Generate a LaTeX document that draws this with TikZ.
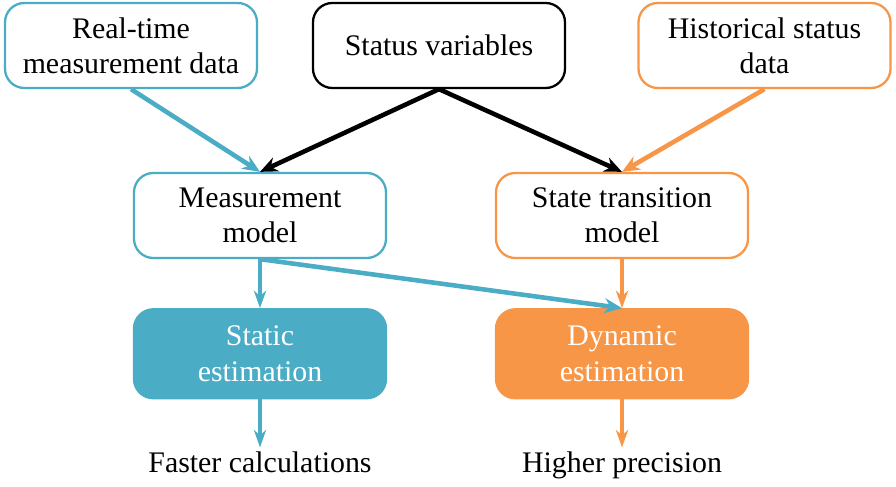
\documentclass[tikz,border=0pt]{standalone}
\usepackage{fontspec}
\setmainfont{Liberation Serif}
\usepackage{xcolor}
\usetikzlibrary{arrows.meta,positioning}
\definecolor{estblue}{RGB}{75,172,198}
\definecolor{estorange}{RGB}{247,150,70}

\begin{document}
\begin{tikzpicture}[
  node distance=0.98cm,
  every node/.style={font=\fontsize{17}{20}\selectfont},
  box/.style={rectangle, rounded corners=11pt, minimum width=5.04cm,
    minimum height=1.7cm, align=center, draw=black, line width=1.3pt, fill=white},
  bluebox/.style={box, draw=estblue},
  orangebox/.style={box, draw=estorange},
  estbox/.style={box, minimum height=1.78cm, text=white},
  result/.style={inner sep=2pt, align=center},
  arr/.style={-{Stealth[length=10pt, width=8.5pt]}, line width=2.6pt},
  thinarr/.style={-{Stealth[length=10pt, width=7pt]}, line width=1.8pt}
]
  \useasboundingbox (0,0) rectangle (17.92,9.72);

  \node[bluebox] (rt) at (2.62,8.81) {Real-time\\measurement data};
  \node[box] (sv) at (8.78,8.81) {Status variables};
  \node[orangebox] (hs) at (15.29,8.81) {Historical status\\data};

  \node[bluebox] (mm) at (5.2,5.41) {Measurement\\model};
  \node[orangebox] (st) at (12.44,5.41) {State transition\\model};

  \node[estbox, fill=estblue, draw=estblue, below=of mm] (se) {Static\\estimation};
  \node[estbox, fill=estorange, draw=estorange, below=of st] (dy) {Dynamic\\estimation};

  \node[result, below=0.96cm of se] (fc) {Faster calculations};
  \node[result, below=0.96cm of dy] (hp) {Higher precision};

  \foreach \f/\t/\c in {rt/mm/estblue, sv/mm/black, sv/st/black,
                        hs/st/estorange, mm/dy/estblue} {
    \draw[arr, \c] (\f.south) -- (\t.north);
  }
  \foreach \f/\t/\c in {mm/se/estblue, st/dy/estorange,
                        se/fc/estblue, dy/hp/estorange} {
    \draw[thinarr, \c] (\f.south) -- (\t.north);
  }
\end{tikzpicture}
\end{document}
